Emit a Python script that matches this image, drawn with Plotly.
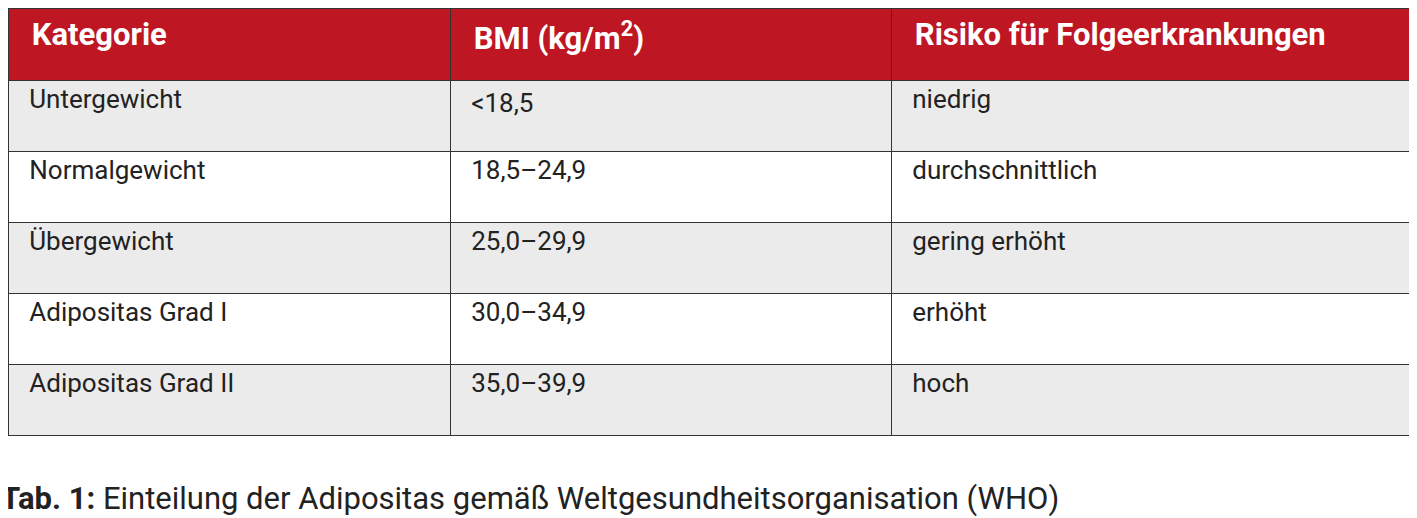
import plotly.graph_objects as go

headers = ["Kategorie", "BMI (kg/m<sup>2</sup>)", "Risiko für Folgeerkrankungen"]
kategorie = ["Untergewicht", "Normalgewicht", "Übergewicht", "Adipositas Grad I", "Adipositas Grad II"]
bmi = ["<18,5", "18,5–24,9", "25,0–29,9", "30,0–34,9", "35,0–39,9"]
risiko = ["niedrig", "durchschnittlich", "gering erhöht", "erhöht", "hoch"]
caption_bold = "Tab. 1:"
caption = "Einteilung der Adipositas gemäß Weltgesundheitsorganisation (WHO)"

pad = "\u2002"
def p(lst):
    return [pad + s for s in lst]

fills = ["#ebebeb" if i % 2 == 0 else "#ffffff" for i in range(len(kategorie))]

fig = go.Figure(go.Table(
    columnwidth=[442, 441, 534],
    domain=dict(x=[0, 1], y=[0, 1]),
    header=dict(values=["<b>" + pad + h + "</b>" for h in headers],
                fill_color="#be1622", line=dict(color="#333333", width=1),
                font=dict(family="Roboto", size=31, color="white"),
                align="left", height=72),
    cells=dict(values=[p(kategorie), p(bmi), p(risiko)],
               fill_color=[fills] * 3, line=dict(color="#333333", width=1),
               font=dict(family="Roboto", size=26, color="#222222"),
               align="left", height=71),
))
fig.add_annotation(x=-0.006, y=1 - 490/518, xref="paper", yref="paper", showarrow=False,
                   xanchor="left", yanchor="middle",
                   text="<b>" + caption_bold + "</b> " + caption,
                   font=dict(family="Roboto", size=31, color="#222222"))
fig.update_layout(width=1417, height=518, margin=dict(l=0, r=0, t=0, b=0),
                  paper_bgcolor="white")
fig.write_html("out.html")
